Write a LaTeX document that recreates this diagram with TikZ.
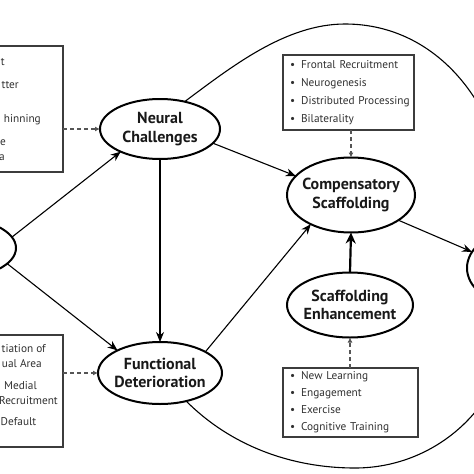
\documentclass[tikz,border=0pt]{standalone}
\usepackage{fontspec}
\setmainfont{PT Sans}
\usetikzlibrary{arrows.meta,shapes.geometric}
\definecolor{boxline}{HTML}{3C3C3C}
\definecolor{boxtext}{HTML}{303030}
\definecolor{dashgray}{HTML}{555555}
\newcommand{\bitem}{\hspace*{5pt}\textbullet\hspace{6pt}}
\begin{document}
\begin{tikzpicture}[x=1pt,y=-1pt,
  ell/.style={ellipse,draw=black,line width=2pt,inner sep=0pt,outer sep=0pt},
  lab/.style={font=\fontsize{16}{18.5}\selectfont\bfseries,align=center,text=black!90,inner sep=0pt},
  listbox/.style={rectangle,draw=boxline,line width=1.8pt,inner ysep=0pt,outer sep=0pt,align=left,text=boxtext},
  conn/.style={line width=1.1pt,-{Stealth[length=10pt,width=8pt]}},
  thickconn/.style={line width=2.2pt,-{Stealth[length=11pt,width=10pt]}},
  dconn/.style={draw=dashgray,line width=1.1pt,dash pattern=on 4pt off 3pt,-{Latex[length=5pt,width=5pt]}},
  frag/.style={anchor=east,inner sep=0pt,font=\fontsize{11.3}{13}\selectfont,text=boxtext}
]
\useasboundingbox (0,0) rectangle (474,474);
\clip (0,0) rectangle (474,474);

% ellipses
\node[ell,minimum width=120pt,minimum height=60pt,label={[lab]center:Neural\\Challenges}] (nc) at (160,129) {};
\node[ell,minimum width=124pt,minimum height=62pt,label={[lab]center:Functional\\Deterioration}] (fd) at (160,373) {};
\node[ell,minimum width=128pt,minimum height=75pt,label={[lab]center:Compensatory\\Scaffolding}] (cs) at (351,195) {};
\node[ell,minimum width=126pt,minimum height=65pt,label={[lab]center:Scaffolding\\Enhancement}] (se) at (350,305) {};
\node[ell,minimum width=120pt,minimum height=60pt] (le) at (-44,248) {};
\node[ell,minimum width=90pt,minimum height=70pt] (re) at (512,268) {};

% boxes
\node[listbox,minimum width=131pt,minimum height=75pt,text width=127pt,inner xsep=2pt,anchor=north west,
  font=\fontsize{11.3}{18}\selectfont] (tr) at (283,55)
  {\bitem Frontal Recruitment\\\bitem Neurogenesis\\\bitem Distributed Processing\\\bitem Bilaterality};
\node[listbox,minimum width=135pt,minimum height=69pt,text width=131pt,inner xsep=2pt,anchor=north west,
  font=\fontsize{11.3}{17}\selectfont] (br) at (283,368)
  {\bitem New Learning\\\bitem Engagement\\\bitem Exercise\\\bitem Cognitive Training};
\node[listbox,minimum width=123pt,minimum height=126pt,anchor=north east] (tl) at (63,46) {};
\node[listbox,minimum width=123pt,minimum height=112pt,anchor=north east] (bl) at (63,335) {};

% fragments of box texts
\node[frag] (tl1) at (5,62) {t};
\node[frag] (tl2) at (19,85) {tter};
\node[frag] (tl3) at (41,120) {hinning};
\node[frag] (tl4) at (6,143) {e};
\node[frag] (tl5) at (5,158) {a};
\node[frag] (bl1) at (46,349) {tiation of};
\node[frag] (bl2) at (42,364) {ual Area};
\node[frag] (bl3) at (37,386) {Medial};
\node[frag] (bl4) at (58,401) {Recruitment};
\node[frag,anchor=west] (bl5) at (0.5,422) {Default};

% connectors
\draw[conn] (le.11) -- (nc.210);
\draw[conn] (le.-17) -- (fd.152);
\draw[conn] (nc.south) -- (fd.north);
\draw[conn] (nc.-15) -- (cs.161);
\draw[conn] (fd.25) -- (cs.216);
\draw[thickconn] (se.north) -- (cs.south);
\draw[conn] (cs.-28) -- (re.158);

\coordinate (topmid) at (345,24);
\coordinate (botmid) at (355,468);
\draw[conn] (nc.48) .. controls (230,68) and (285,24) .. (topmid) .. controls (440,24) and (508,110) .. (re.north);
\draw[conn] (fd.-47) .. controls (230,445) and (290,468) .. (botmid) .. controls (440,468) and (512,400) .. (re.south);

% dashed
\draw[dconn] (tl.east |- nc.west) -- (nc.west);
\draw[dconn] (bl.east |- fd.west) -- (fd.west);
\draw[dconn] (tr.south -| cs.north) -- (cs.north);
\draw[dconn] (br.north -| se.south) -- (se.south);
\end{tikzpicture}
\end{document}
